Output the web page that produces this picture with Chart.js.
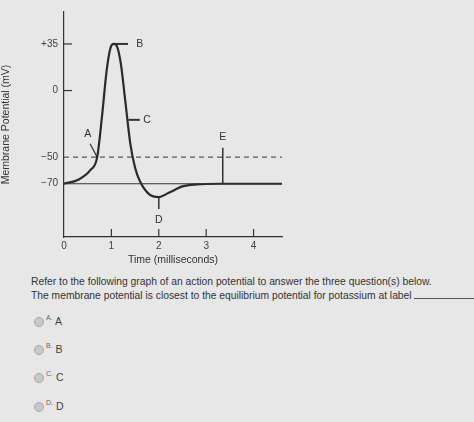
<!DOCTYPE html>
<html><head><meta charset="utf-8">
<script src="https://cdn.jsdelivr.net/npm/chart.js@4"></script>
<style>
body{margin:0;background:#e7e7e7;font-family:"Liberation Sans",Arial,sans-serif;color:#333;width:474px;height:422px;overflow:hidden;position:relative}
#c{position:absolute;left:0;top:0}
.q{position:absolute;left:31px;font-size:10.3px;color:#333;white-space:nowrap}
.opt{position:absolute;left:34px;font-size:10.5px;color:#444}
.opt i{display:inline-block;width:8px;height:8px;border-radius:50%;background:#c8c8c8;border:1px solid #aaa;vertical-align:middle;margin-right:2px}
.opt sup{font-size:7px;color:#666}
</style></head><body>
<canvas id="c" width="474" height="270"></canvas>
<div class="q" style="top:276px">Refer to the following graph of an action potential to answer the three question(s) below.</div>
<div class="q" style="top:290px">The membrane potential is closest to the equilibrium potential for potassium at label <span style="display:inline-block;width:76px;border-bottom:1px solid #555"></span></div>
<div class="opt" style="top:314px"><i></i><sup>A.</sup> A</div>
<div class="opt" style="top:342px"><i></i><sup>B.</sup> B</div>
<div class="opt" style="top:370px"><i></i><sup>C.</sup> C</div>
<div class="opt" style="top:399px"><i></i><sup>D.</sup> D</div>
<script>
const timeMs=[0,0.3,0.55,0.7,0.8,0.9,0.98,1.05,1.12,1.2,1.3,1.4,1.5,1.6,1.8,2.0,2.2,2.5,2.8,3.3,4.6];
const potential=[-70,-67,-60,-50,-20,15,32,35,33,20,-10,-40,-58,-68,-78,-80,-77,-72,-70.5,-70,-70];
const xTicks=[0,1,2,3,4];
const yTicks=[-70,-50,0,35];
const yTickLabels=['\u221270','\u221250','0','+35'];
const restLine=[{x:0,y:-70},{x:4.6,y:-70}];
const thresholdLine=[{x:0,y:-50},{x:4.6,y:-50}];
const markB=[{x:1.08,y:35},{x:1.35,y:35}];
const markC=[{x:1.36,y:-22},{x:1.6,y:-22}];
const markA=[{x:0.7,y:-50},{x:0.55,y:-40}];
const markD=[{x:2.0,y:-80},{x:2.0,y:-89}];
const markE=[{x:3.35,y:-70},{x:3.35,y:-43}];
const labels=[['A',0.5,-33],['B',1.6,35],['C',1.75,-22],['D',2.0,-97],['E',3.35,-35]];
const seg=(d,w,dash)=>({data:d,borderColor:'#333',borderWidth:w,borderDash:dash||[],pointRadius:0,fill:false,tension:0});
new Chart(document.getElementById('c'),{type:'line',
data:{datasets:[
 seg(restLine,1.2),seg(thresholdLine,1,[5,4]),
 {data:timeMs.map((x,i)=>({x,y:potential[i]})),borderColor:'#2a2a2a',borderWidth:2.2,pointRadius:0,tension:0.4,cubicInterpolationMode:'monotone'},
 seg(markB,2),seg(markC,2),seg(markA,1.2),seg(markD,1.5),seg(markE,1.5)]},
options:{responsive:false,animation:false,devicePixelRatio:1,
 layout:{padding:{top:0,right:192,left:0,bottom:0}},
 plugins:{legend:{display:false},tooltip:{enabled:false}},
 scales:{
  x:{type:'linear',min:0,max:4.6,afterBuildTicks:s=>{s.ticks=xTicks.map(v=>({value:v}))},
   afterFit:s=>{s.height=33},grid:{display:false,drawTicks:false},border:{color:'#333',width:1.2},
   ticks:{color:'#444',font:{size:10},padding:3},
   title:{display:true,text:'Time (milliseconds)',color:'#333',font:{size:10.5},padding:{top:3}}},
  y:{type:'linear',min:-110,max:59,afterBuildTicks:s=>{s.ticks=yTicks.map(v=>({value:v}))},
   afterFit:s=>{s.width=64},grid:{display:false,drawTicks:false},border:{color:'#333',width:1.2},
   ticks:{color:'#444',font:{size:10},padding:6,callback:v=>yTickLabels[yTicks.indexOf(v)]},
   title:{display:true,text:'Membrane Potential (mV)',color:'#333',font:{size:10.5},padding:{top:0,bottom:0}}}
 }},
plugins:[{id:'marks',afterDatasetsDraw(ch){const c=ch.ctx,x=ch.scales.x,y=ch.scales.y;
 c.save();c.strokeStyle='#333';c.lineWidth=1.2;
 xTicks.forEach(v=>{if(v===0)return;const px=x.getPixelForValue(v);c.beginPath();c.moveTo(px,y.bottom);c.lineTo(px,y.bottom-8);c.stroke();});
 [35,0].forEach(v=>{const py=y.getPixelForValue(v);c.beginPath();c.moveTo(x.left,py);c.lineTo(x.left+8,py);c.stroke();});
 c.fillStyle='#333';c.font='10.5px "Liberation Sans",Arial';c.textAlign='center';c.textBaseline='middle';
 labels.forEach(([t,vx,vy])=>c.fillText(t,x.getPixelForValue(vx),y.getPixelForValue(vy)));
 c.restore();}}]
});
</script></body></html>
